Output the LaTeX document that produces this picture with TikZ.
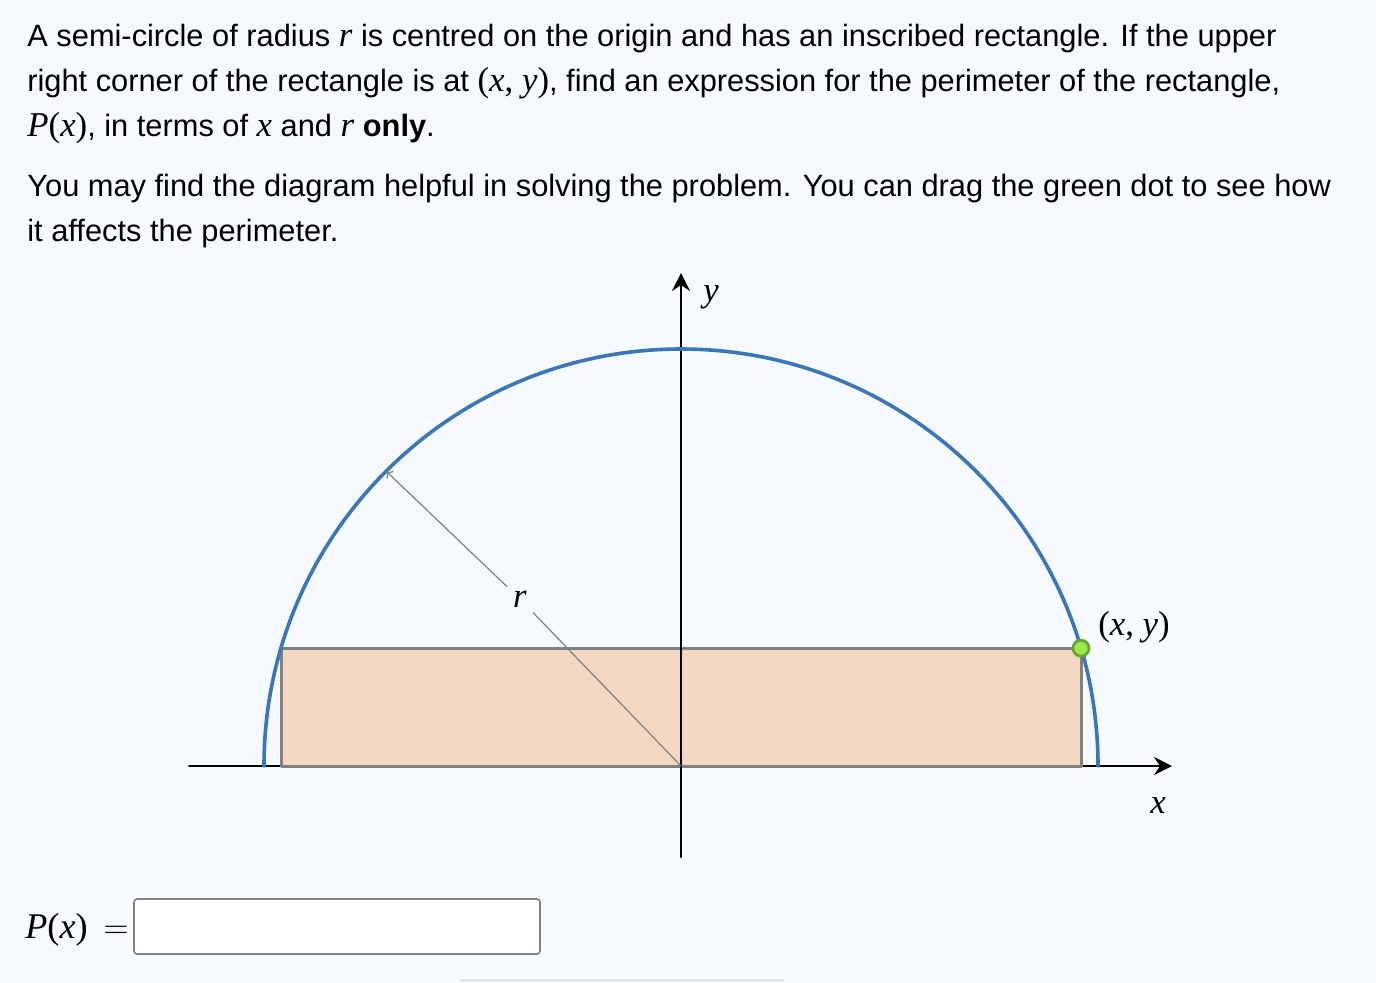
\documentclass[tikz,border=0pt]{standalone}
\usepackage{fontspec}
\usetikzlibrary{arrows.meta}
\setmainfont{Liberation Sans}
\newfontfamily\serifmath[Scale=1.13]{Liberation Serif}
\newcommand{\mv}[1]{{\serifmath\itshape #1}}
\newcommand{\mup}[1]{{\serifmath #1}}
\definecolor{pagebg}{HTML}{F6F9FD}
\definecolor{arcblue}{HTML}{3B76B5}
\definecolor{rectpeach}{HTML}{F3D7C3}
\definecolor{edgegray}{HTML}{808080}
\definecolor{dotgreen}{HTML}{9BE84A}
\definecolor{dotedge}{HTML}{6BA632}
\definecolor{shadegray}{HTML}{E6EAEF}
\tikzset{
  qtext/.style={anchor=base west,inner sep=0pt,font=\fontsize{15.4pt}{18pt}\selectfont},
  lbl/.style={inner sep=1pt,font=\fontsize{15.4pt}{18pt}\selectfont},
  axis/.style={line width=1pt},
  bluearc/.style={arcblue,line width=1.8pt},
  rectbox/.style={fill=rectpeach,draw=edgegray,line width=1.5pt},
  radline/.style={edgegray,line width=0.6pt},
  greendot/.style={circle,fill=dotgreen,draw=dotedge,line width=1.4pt,minimum size=8pt,inner sep=0pt},
  inputbox/.style={fill=white,draw=edgegray,line width=0.8pt,rounded corners=1.5pt}
}
\begin{document}
\begin{tikzpicture}[x=0.5pt,y=-0.5pt,>={Stealth[length=9pt,width=9pt,inset=3pt]},line join=round,line cap=round]
  \useasboundingbox (0,0) rectangle (1400,982);
  \fill[pagebg] (0,0) rectangle (1376,982);
  \fill[shadegray] (460,979) rectangle (784,982);
  % question
  \node[qtext] (q1) at (27,46) {A semi-circle of radius \mv{r} is centred on the origin and has an inscribed rectangle. If the upper};
  \node[qtext] (q2) at (27,91) {right corner of the rectangle is at \mup{(}\mv{x}\mup{, }\mv{y}\mup{)}, find an expression for the perimeter of the rectangle,};
  \node[qtext] (q3) at (27,136) {\mv{P}\mup{(}\mv{x}\mup{)}, in terms of \mv{x} and \mv{r} \textbf{only}.};
  \node[qtext] (h1) at (27,196) {You may find the diagram helpful in solving the problem. You can drag the green dot to see how};
  \node[qtext] (h2) at (27,241) {it affects the perimeter.};
  % diagram
  \def\R{417}
  \coordinate (O) at (681,766);
  \coordinate (xl) at (189,766); \coordinate (xr) at (1172,766);
  \coordinate (yb) at (681,857); \coordinate (yt) at (681,273);
  \draw[axis,->] (xl) -- (xr);
  \draw[rectbox] (281,766) rectangle (1081,648.15);
  \draw[axis,->] (yb) -- (yt);
  \node[lbl] (xlab) at (1158,805) {\mv{x}};
  \node[lbl] (ylab) at (711,297) {\mv{y}};
  \draw[bluearc] (264,766) arc[start angle=180,end angle=360,radius=\R];
  \coordinate (A) at (386.1,471.1);
  \node[lbl,inner sep=3pt] (rlab) at (520,599) {\mv{r}};
  \draw[radline] (O) -- (rlab);
  \draw[radline,-{To[length=3pt,width=5pt]}] (rlab) -- (A);
  \node[greendot] (P) at (1081,648.15) {};
  \node[lbl] (plab) at (1134,627) {\mup{(}\mv{x}\mup{, }\mv{y}\mup{)}};
  % answer
  \node[qtext,font=\fontsize{16pt}{18pt}\selectfont] (ans) at (25,938) {\mv{P}\mup{(}\mv{x}\mup{)}\enspace$=$};
  \draw[inputbox] (134,899) rectangle (540,954);
\end{tikzpicture}
\end{document}
